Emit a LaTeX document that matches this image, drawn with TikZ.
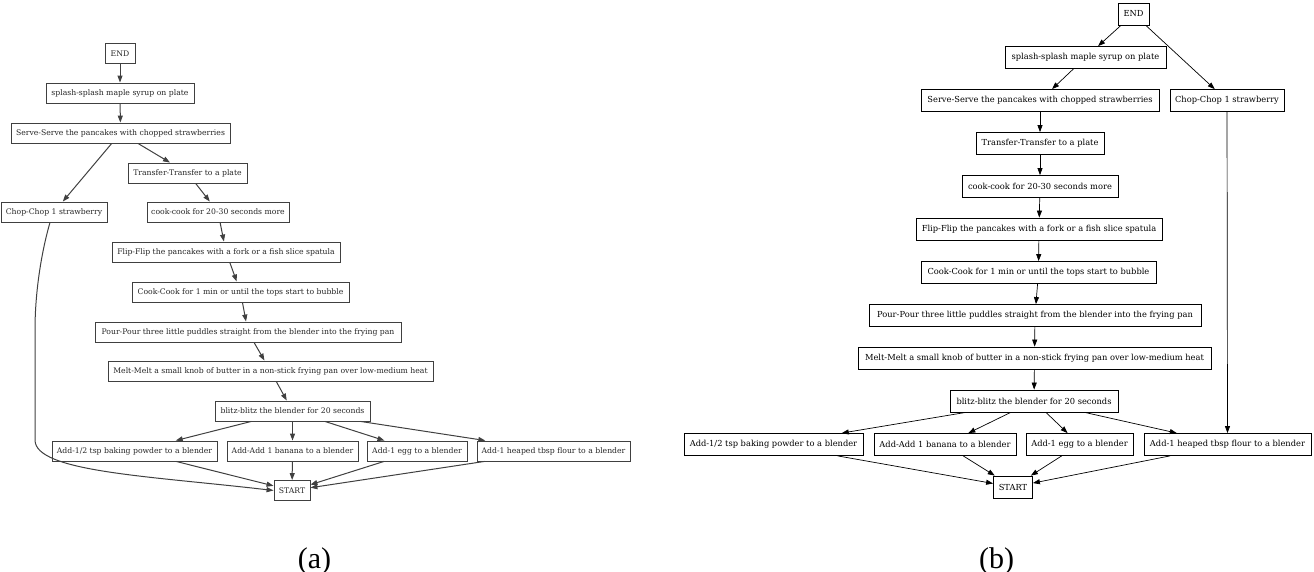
\documentclass[tikz,border=0pt]{standalone}
\usepackage{fontspec}
\setmainfont{Liberation Serif}
\newfontfamily\boxfont{DejaVu Serif}
\usetikzlibrary{arrows.meta}
\tikzset{
  stepa/.style={draw=black!75, line width=0.9pt, text=black!85, inner xsep=1pt,
    font=\boxfont\fontsize{7.7}{8}\selectfont, minimum height=20pt},
  stepb/.style={draw, line width=0.8pt, inner xsep=1pt,
    font=\boxfont\fontsize{8.3}{9}\selectfont, minimum height=22pt},
  flowa/.style={-{Triangle[length=7pt,width=5pt]}, draw=black!75, line width=1pt},
  flowb/.style={-{Triangle[length=7pt,width=5pt]}, line width=0.7pt},
  caption/.style={font=\fontsize{30}{30}\selectfont, anchor=base, inner sep=0pt},
}
\begin{document}
\begin{tikzpicture}[x=1pt,y=-1pt]
\useasboundingbox (0,0) rectangle (1314,572);
% (a)
\node[stepa, minimum width=30pt] (endA) at (120,53.5) {END};
\node[stepa, minimum width=148pt] (splashA) at (120,93) {splash-splash maple syrup on plate};
\node[stepa, minimum width=219pt] (serveA) at (120.5,133) {Serve-Serve the pancakes with chopped strawberries};
\node[stepa, minimum width=119pt] (transferA) at (187.5,173) {Transfer-Transfer to a plate};
\node[stepa, minimum width=106pt] (chopA) at (54,212) {Chop-Chop 1 strawberry};
\node[stepa, minimum width=142pt] (cookA) at (218,212) {cook-cook for 20-30 seconds more};
\node[stepa, minimum width=228pt] (flipA) at (226,252) {Flip-Flip the pancakes with a fork or a fish slice spatula};
\node[stepa, minimum width=217pt] (cookbA) at (240.5,292) {Cook-Cook for 1 min or until the tops start to bubble};
\node[stepa, minimum width=306pt] (pourA) at (248,332) {Pour-Pour three little puddles straight from the blender into the frying pan};
\node[stepa, minimum width=325pt] (meltA) at (270.5,371) {Melt-Melt a small knob of butter in a non-stick frying pan over low-medium heat};
\node[stepa, minimum width=155pt] (blitzA) at (292.5,411) {blitz-blitz the blender for 20 seconds};
\node[stepa, minimum width=165pt] (halfA) at (134.5,451) {Add-1/2 tsp baking powder to a blender};
\node[stepa, minimum width=131pt] (bananaA) at (292.5,451) {Add-Add 1 banana to a blender};
\node[stepa, minimum width=100pt] (eggA) at (417,451) {Add-1 egg to a blender};
\node[stepa, minimum width=153pt] (flourA) at (553.5,451) {Add-1 heaped tbsp flour to a blender};
\node[stepa, minimum width=36pt] (startA) at (292,490.5) {START};
\draw[flowa] (endA) -- (splashA);
\draw[flowa] (splashA) -- (serveA);
\draw[flowa] (serveA) -- (chopA);
\draw[flowa] (serveA) -- (transferA);
\draw[flowa] (transferA) -- (cookA);
\draw[flowa] (cookA) -- (flipA);
\draw[flowa] (flipA) -- (cookbA);
\draw[flowa] (cookbA) -- (pourA);
\draw[flowa] (pourA) -- (meltA);
\draw[flowa] (meltA) -- (blitzA);
\draw[flowa] (blitzA) -- (halfA);
\draw[flowa] (blitzA) -- (bananaA);
\draw[flowa] (blitzA) -- (eggA);
\draw[flowa] (blitzA) -- (flourA);
\draw[flowa] (halfA) -- (startA);
\draw[flowa] (bananaA) -- (startA);
\draw[flowa] (eggA) -- (startA);
\draw[flowa] (flourA) -- (startA);
\draw[flowa] ([xshift=-4pt]chopA.south) .. controls (42,250) and (35,290) .. (35,330)
  -- (35,440) .. controls (35,472) and (150,476) .. (startA.west);
\node[caption] (capA) at (314.5,568) {(a)};
% (b)
\node[stepb, minimum width=31pt] (endB) at (1133.5,14) {END};
\node[stepb, minimum width=161pt] (splashB) at (1085.5,57.5) {splash-splash maple syrup on plate};
\node[stepb, minimum width=238pt] (serveB) at (1040,100.5) {Serve-Serve the pancakes with chopped strawberries};
\node[stepb, minimum width=114pt] (chopB) at (1227,100.5) {Chop-Chop 1 strawberry};
\node[stepb, minimum width=128pt] (transferB) at (1040,143.5) {Transfer-Transfer to a plate};
\node[stepb, minimum width=156pt] (cookB) at (1040,186.5) {cook-cook for 20-30 seconds more};
\node[stepb, minimum width=246pt] (flipB) at (1039,229) {Flip-Flip the pancakes with a fork or a fish slice spatula};
\node[stepb, minimum width=235pt] (cookbB) at (1038.5,272.5) {Cook-Cook for 1 min or until the tops start to bubble};
\node[stepb, minimum width=332pt] (pourB) at (1035,315.5) {Pour-Pour three little puddles straight from the blender into the frying pan};
\node[stepb, minimum width=353pt] (meltB) at (1034.5,358) {Melt-Melt a small knob of butter in a non-stick frying pan over low-medium heat};
\node[stepb, minimum width=168pt] (blitzB) at (1034,401) {blitz-blitz the blender for 20 seconds};
\node[stepb, minimum width=179pt] (halfB) at (773.5,444.5) {Add-1/2 tsp baking powder to a blender};
\node[stepb, minimum width=142pt] (bananaB) at (945,444.5) {Add-Add 1 banana to a blender};
\node[stepb, minimum width=107pt] (eggB) at (1079.5,444.5) {Add-1 egg to a blender};
\node[stepb, minimum width=167pt] (flourB) at (1227.5,444.5) {Add-1 heaped tbsp flour to a blender};
\node[stepb, minimum width=39pt] (startB) at (1013,487) {START};
\draw[flowb] (endB) -- (splashB);
\draw[flowb] (endB) -- (chopB);
\draw[flowb] (splashB) -- (serveB);
\draw[flowb] (serveB) -- (transferB);
\draw[flowb] (transferB) -- (cookB);
\draw[flowb] (cookB) -- (flipB);
\draw[flowb] (flipB) -- (cookbB);
\draw[flowb] (cookbB) -- (pourB);
\draw[flowb] (pourB) -- (meltB);
\draw[flowb] (meltB) -- (blitzB);
\draw[flowb] (blitzB) -- (halfB);
\draw[flowb] (blitzB) -- (bananaB);
\draw[flowb] (blitzB) -- (eggB);
\draw[flowb] (blitzB) -- (flourB);
\draw[flowb] (chopB) -- (flourB);
\draw[flowb] (halfB) -- (startB);
\draw[flowb] (bananaB) -- (startB);
\draw[flowb] (eggB) -- (startB);
\draw[flowb] (flourB) -- (startB);
\node[caption] (capB) at (996.5,568) {(b)};
\end{tikzpicture}
\end{document}
